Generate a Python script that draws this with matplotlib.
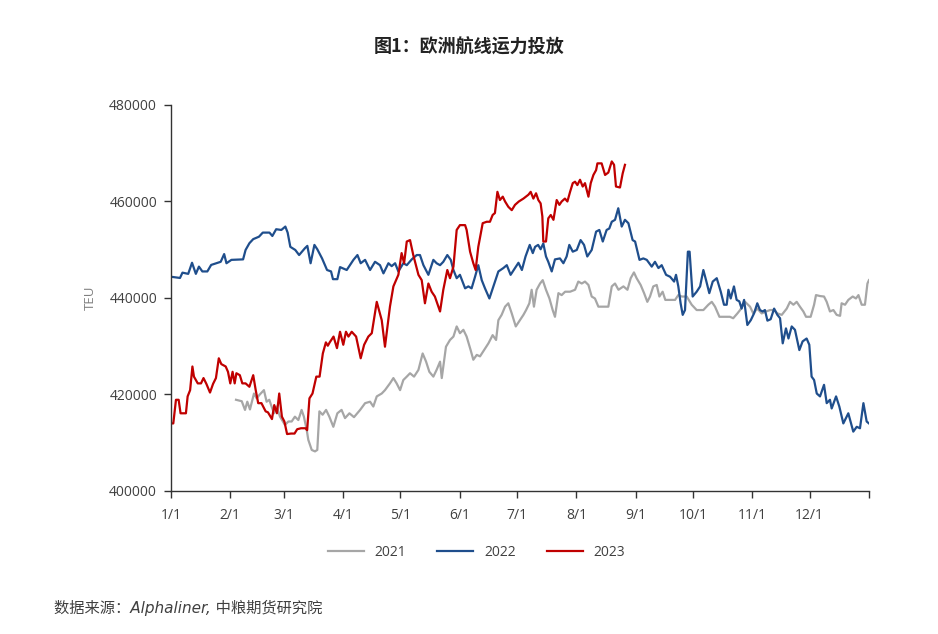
import matplotlib
matplotlib.use('Agg')
import matplotlib.pyplot as plt

plt.rcParams['font.family'] = ['Open Sans', 'Noto Sans CJK SC', 'DejaVu Sans']

# day of year -> TEU
days_2021 = [34, 37, 38.7, 39.9, 41.3, 43.4, 44.8, 46.2, 48.6, 50, 51.4, 52.6, 53.9, 55.3, 57, 59.6,
             61.4, 63.1, 64.8, 66.6, 68.3, 69.5, 71, 71.8, 73.6, 75.3, 76.5, 77.6, 79.3, 81.1, 82.8,
             84.9, 87, 89.2, 91, 93.3, 95.7, 98.9, 101.5, 104.1, 105.8, 107.6, 110.2, 111.9, 114.5,
             116.3, 118, 119.8, 121.5, 123.3, 125, 127.1, 129.4, 131.6, 133.4, 135.1, 137.2, 138.9,
             140.7, 141.6, 143.8, 145.9, 147.7, 149.4, 151.1, 152.9, 154.6, 156.7, 158.1, 159.9,
             161.6, 163.7, 166, 168.2, 170, 171.2, 172.9, 174.7, 176.4, 178.2, 180.3, 182.5, 184.3,
             185.7, 187.4, 188.6, 189.8, 191.2, 193, 194.4, 196.1, 197.9, 199.6, 200.8, 202.6, 204.3,
             206.1, 208.7, 211.3, 213, 214.8, 216.5, 218.3, 220, 221.7, 223.5, 226.1, 228.7, 230.5,
             232.2, 234, 236.6, 238.7, 240.4, 242.1, 243.5, 245.6, 247.4, 249.1, 250.5, 252.2, 254,
             255.4, 257.1, 258.5, 261, 263.6, 265.3, 267.1, 269.7, 272.3, 274.9, 278.4, 281, 282.8,
             284.5, 286.8, 289.7, 292.3, 294, 296.2, 297.6, 300.2, 302.8, 304.5, 306.6, 308.9, 311.2,
             313.3, 315.4, 317.1, 319.4, 322, 323.7, 325.5, 327.2, 328.9, 330.7, 332.1, 334.5, 336.3,
             337.3, 339.4, 341.5, 342.9, 344.6, 346.4, 348.1, 349.9, 350.7, 352.5, 354.2, 356.5,
             358.2, 359.5, 361.2, 362.9, 364.2, 365]
teu_2021 = [418900, 418600, 416800, 418500, 416900, 420200, 419200, 419900, 420900, 418500, 418900,
            417500, 416100, 417500, 415400, 413700, 414400, 414400, 415400, 414700, 416800, 415400,
            412600, 410600, 408500, 408200, 408500, 416500, 415800, 416800, 415400, 413300, 416100,
            416800, 415100, 416100, 415300, 416800, 418200, 418500, 417500, 419600, 420200, 420900,
            422300, 423400, 422300, 420900, 423000, 423700, 424400, 423700, 425100, 428500, 426800,
            424700, 423700, 425100, 426800, 423400, 429900, 431300, 432000, 434100, 432700, 433400,
            432000, 429200, 427200, 428200, 427900, 429200, 430600, 432300, 431300, 435400, 436500,
            438200, 438900, 436800, 434100, 435400, 436500, 437500, 438900, 441700, 438200, 441700,
            443000, 443700, 441700, 439900, 437500, 436100, 441000, 440600, 441300, 441300, 441700,
            443400, 443000, 443400, 442700, 440300, 439900, 438200, 438200, 438200, 442400, 443000,
            441700, 442400, 441700, 444100, 445300, 444100, 442700, 441000, 439200, 440300, 442400,
            442700, 440300, 441300, 439600, 439600, 439600, 440600, 440300, 440300, 438600, 437500,
            437500, 438600, 439200, 438200, 436100, 436100, 436100, 435800, 436800, 437500, 439200,
            438200, 436800, 437800, 436800, 437200, 437500, 437500, 436800, 436500, 437800, 439200,
            438600, 439200, 438200, 437200, 436100, 436100, 438600, 440600, 440400, 440300, 439200,
            437200, 437500, 436500, 436300, 438900, 438600, 439600, 440300, 439900, 440600, 438600,
            438600, 443000, 443700]

days_2022 = [0, 4.7, 6, 9, 11, 13, 14.6, 16.4, 19, 21, 24.5, 26, 27.8, 29, 31.6, 37.7, 39, 41, 43, 46,
             48, 51.5, 53, 55, 57.7, 59.8, 61, 62.4, 65, 67, 70, 71.3, 73, 75, 76.5, 79, 81.6, 83.7,
             84.7, 87, 88.4, 91.9, 95.4, 97.5, 99.2, 101.5, 104.1, 106.7, 109.3, 111.1, 113.7, 115.4,
             117.2, 118.9, 121.5, 123.3, 125.9, 128.5, 130.2, 132, 134.6, 137.2, 138.9, 140.7, 142.4,
             144.5, 146.3, 147.7, 149.4, 151.1, 153.8, 155.5, 157.2, 159, 160.7, 162.5, 164.2, 166.5,
             168.6, 171.2, 173.8, 175.6, 177.6, 179.9, 181.7, 183.5, 185.4, 187.6, 189.2, 190.4, 192,
             193.3, 194.7, 196.1, 197.3, 199.1, 200.8, 203.4, 205.2, 206.9, 208.3, 210.1, 212.2,
             214.2, 216, 217.7, 220, 222.3, 224, 225.8, 227.8, 229.2, 230.5, 232.2, 233.9, 235.7,
             237.4, 239.2, 241.4, 242.7, 245, 247, 248.8, 251.4, 253.1, 254.9, 256.6, 258.9, 261,
             263.1, 264.1, 265.3, 266.5, 267.6, 268.8, 270.3, 271.2, 272.8, 274.9, 276.7, 278.4,
             279.8, 281.5, 283.3, 285.4, 287.5, 289.2, 290.6, 291.5, 292.7, 294.4, 295.8, 297.2,
             298.4, 299.7, 301.4, 303.2, 304.9, 306.6, 308, 309.4, 310.6, 311.9, 313.6, 315.4, 317.1,
             318.5, 319.9, 321.6, 322.9, 324.6, 326.3, 328.6, 330.3, 332.4, 333.8, 335, 336.3, 337.7,
             339.4, 341.5, 342.9, 344.6, 345.5, 347.8, 349.5, 351.6, 354.2, 356.8, 358.6, 360.3,
             362.1, 363.8, 365]
teu_2022 = [444400, 444150, 445250, 445000, 447300, 445000, 446500, 445500, 445500, 446850, 447300,
            447500, 449100, 447200, 447900, 448000, 449950, 451350, 452200, 452700, 453550, 453550,
            452850, 454250, 454100, 454800, 453550, 450600, 449950, 448900, 450300, 450800, 447200,
            451000, 450100, 448200, 445800, 445500, 443900, 443900, 446400, 445800, 447900, 448900,
            447200, 447900, 445800, 447500, 446800, 445100, 447200, 446600, 447200, 445500, 447200,
            446800, 448000, 448900, 448900, 446800, 444800, 447900, 447200, 446800, 447500, 448900,
            447900, 445800, 444100, 444800, 442000, 442400, 442000, 444400, 446800, 443700, 442000,
            439900, 442400, 445500, 446200, 446800, 444800, 446200, 447300, 445800, 448600, 451000,
            449300, 450600, 451000, 450100, 451300, 448600, 447500, 445500, 448000, 448200, 447200,
            448600, 451000, 449600, 449950, 452000, 451000, 448600, 449950, 453750, 454100, 451700,
            454100, 454400, 455800, 456200, 458600, 454800, 456200, 455500, 452000, 451700, 447900,
            448200, 447900, 446500, 447500, 446200, 446800, 444800, 444400, 443400, 444800, 442400,
            438900, 436500, 437500, 449600, 449600, 440300, 441300, 442400, 445800, 443700, 441000,
            443400, 444100, 441300, 438600, 438600, 441700, 439900, 442400, 439600, 439300, 437800,
            439600, 434400, 435400, 436800, 438900, 437500, 437200, 437500, 435300, 435600, 437800,
            436500, 435800, 430600, 433700, 431600, 434100, 433400, 429200, 431000, 431600, 430300,
            423700, 423000, 420200, 419600, 422000, 418200, 418900, 417100, 419600, 417500, 414000,
            416100, 412300, 413300, 413000, 418200, 414400, 414000]

days_2023 = [0, 1.2, 2.6, 4, 5, 7.8, 8.7, 10, 11.2, 12, 14, 15.7, 17, 18.5, 20.4, 22, 23.5, 25, 26.3,
             28.6, 29.8, 31, 32.2, 33.3, 34.2, 36, 37.3, 39, 41, 43, 44.3, 45.6, 47.3, 49.5, 50.7,
             52.8, 54, 55.4, 56.6, 58, 59.3, 60.7, 62.8, 64.6, 66, 68, 70.3, 71.2, 72.4, 74, 76,
             77.7, 79.4, 81, 82, 83, 85, 86.8, 88.4, 90.1, 91.5, 92.8, 94.5, 96.8, 99.2, 101, 103.2,
             105, 107.6, 110.2, 111.9, 114.5, 116.3, 117.7, 118.9, 120.6, 121.9, 123.3, 125, 126.7,
             128.1, 129.4, 131.1, 132.8, 134.6, 136.3, 138, 140.7, 142.4, 144.5, 145.9, 147.7, 149.4,
             151.1, 153.8, 154.6, 156.4, 158.1, 159.3, 160.7, 163, 165.1, 166.8, 168.2, 169.4, 170.7,
             172, 173.5, 174.7, 176.4, 178.2, 179.9, 181.9, 184.3, 186.9, 188.1, 189.5, 190.9, 192.1,
             193.3, 194.2, 194.7, 196.1, 197.3, 198.6, 200, 201.7, 203.1, 204.3, 206, 207.3, 208.7,
             210.1, 211.3, 212.5, 213.9, 215.3, 216.5, 218.3, 219.5, 220.9, 222.3, 223, 225.2, 227,
             228.7, 230.5, 231.7, 232.7, 234.8, 236.2, 237.4]
teu_2023 = [414000, 414000, 418900, 418900, 416100, 416100, 419600, 420900, 425800, 423700, 422300,
            422300, 423400, 422200, 420400, 422200, 423400, 427500, 426300, 425800, 424700, 422300,
            424700, 422300, 424400, 424000, 422300, 422300, 421600, 424000, 420900, 418200, 418200,
            416500, 416300, 414900, 417800, 416100, 420200, 415400, 414400, 411800, 411900, 411900,
            412800, 413000, 413000, 412600, 419200, 420200, 423700, 423700, 428500, 430800, 430100,
            430800, 432000, 429600, 433000, 430300, 433000, 432000, 433000, 432000, 427500, 430300,
            432000, 432700, 439200, 435400, 429900, 438200, 442400, 443700, 444800, 449300, 447200,
            451700, 452000, 448900, 446800, 444800, 443700, 438900, 443000, 441300, 440300, 437200,
            441700, 445800, 444100, 446500, 454100, 455100, 455100, 454100, 449600, 447200, 445800,
            450600, 455500, 455800, 455800, 457200, 457600, 462000, 460300, 461000, 460000, 458900,
            458200, 459300, 460000, 460600, 461400, 462000, 460600, 461700, 460300, 459600, 456900,
            451700, 451700, 456500, 457200, 456200, 460300, 459300, 460000, 460600, 460000, 462000,
            463800, 464100, 463400, 464500, 463100, 463800, 461000, 463800, 465500, 466500, 467900,
            467900, 465500, 466000, 468300, 467600, 463100, 462900, 465800, 467600]

month_days = [0, 31, 59, 90, 120, 151, 181, 212, 243, 273, 304, 334]
month_labels = ['1/1', '2/1', '3/1', '4/1', '5/1', '6/1', '7/1', '8/1', '9/1', '10/1', '11/1', '12/1']
y_ticks = [400000, 420000, 440000, 460000, 480000]

fig = plt.figure(figsize=(9.38, 6.34), dpi=100)
ax = fig.add_axes([0.1823, 0.2256, 0.7441, 0.6088])

ax.plot(days_2021, teu_2021, color='#A6A6A6', lw=1.6, label='2021')
ax.plot(days_2022, teu_2022, color='#1F4E8C', lw=1.6, label='2022')
ax.plot(days_2023, teu_2023, color='#C00000', lw=1.6, label='2023')

ax.set_xlim(0, 365)
ax.set_ylim(400000, 480000)
ax.set_xticks(month_days)
ax.set_xticklabels(month_labels)
ax.set_xticks([365], minor=True)
ax.set_yticks(y_ticks)
ax.set_yticklabels([str(v) for v in y_ticks])

for side in ['top', 'right']:
    ax.spines[side].set_visible(False)
for side in ['left', 'bottom']:
    ax.spines[side].set_color('#333333')
    ax.spines[side].set_linewidth(1.0)
ax.tick_params(axis='both', which='both', direction='out', length=5, width=1, color='#333333',
               labelsize=10, labelcolor='#404040')
ax.tick_params(axis='x', pad=7)
ax.tick_params(axis='y', pad=5)

ax.set_ylabel('TEU', color='#808080', fontsize=9.5, labelpad=9)

fig.text(0.5, 0.925, '图1：欧洲航线运力投放', ha='center', va='center', fontsize=13,
         fontweight='bold', color='#222222', family=['Noto Sans CJK SC', 'DejaVu Sans'])

fig.legend(loc='center', bbox_to_anchor=(0.508, 0.128), ncol=3, frameon=False,
           fontsize=10, handlelength=2.6, columnspacing=2.2, labelcolor='#404040')

# latin part gets the oblique face, CJK glyphs fall back to Noto
fig.text(0.058, 0.041, '数据来源：Alphaliner, 中粮期货研究院', ha='left', va='center',
         fontsize=11, style='italic', color='#404040',
         family=['DejaVu Sans', 'Noto Sans CJK SC'])

fig.savefig('out.png', dpi=100)
